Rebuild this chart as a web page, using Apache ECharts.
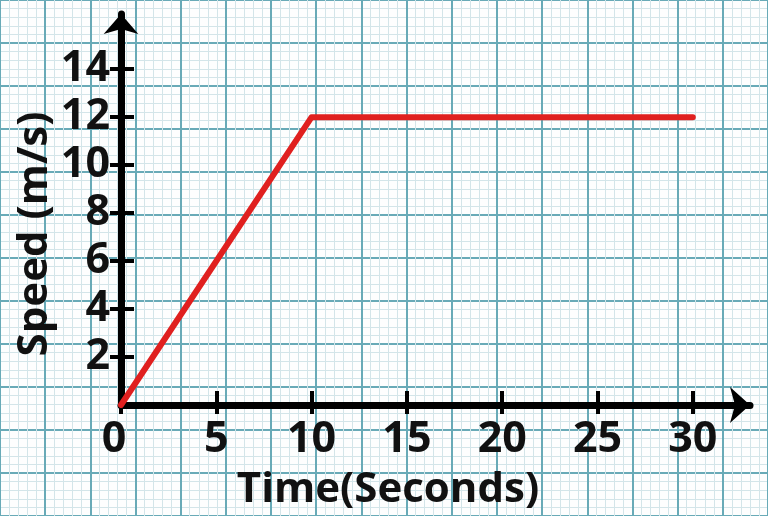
<!DOCTYPE html>
<html>
<head>
<meta charset="utf-8">
<script src="https://cdn.jsdelivr.net/npm/echarts@6/dist/echarts.min.js"></script>
<style>
  html, body { margin: 0; padding: 0; background: #fdfefe; }
  #chart { width: 768px; height: 516px; }
</style>
</head>
<body>
<div id="chart"></div>
<script>
// data
var timeVals = [0, 10, 30];
var speedVals = [0, 12, 12];
var xTickVals = [0, 5, 10, 15, 20, 25, 30];
var yTickVals = [2, 4, 6, 8, 10, 12, 14];

var FONT = '"Open Sans", "DejaVu Sans", sans-serif';
var chart = echarts.init(document.getElementById('chart'));

// graph paper: one grid over the whole canvas, only split lines
var paperX = {
  gridIndex: 0, type: 'value', min: -7.5, max: 35, interval: 2.5,
  axisLine: { show: false }, axisTick: { show: false }, axisLabel: { show: false },
  minorTick: { show: false, splitNumber: 5 },
  splitLine: { show: true, lineStyle: { color: '#68aab7', width: 2 } },
  minorSplitLine: { show: true, lineStyle: { color: '#d3e5e9', width: 1 } }
};
var paperY = {
  gridIndex: 0, type: 'value', min: -6, max: 18, interval: 2,
  axisLine: { show: false }, axisTick: { show: false }, axisLabel: { show: false },
  minorTick: { show: false, splitNumber: 5 },
  splitLine: { show: true, lineStyle: { color: '#68aab7', width: 2 } },
  minorSplitLine: { show: true, lineStyle: { color: '#d3e5e9', width: 1 } }
};

var option = {
  backgroundColor: '#fdfefe',
  animation: false,
  grid: [
    { left: -24, right: -19, top: -24, bottom: -32 },
    { left: 121, right: 18, top: 14, bottom: 111 }
  ],
  xAxis: [
    paperX,
    {
      gridIndex: 1, type: 'value', position: 'bottom', min: 0, max: 33, interval: 5,
      axisLine: { show: true, onZero: false, symbol: ['none', 'arrow'], symbolSize: [27, 20],
        lineStyle: { color: '#000', width: 7 } },
      axisTick: { show: true, inside: true, length: 14, customValues: xTickVals,
        lineStyle: { color: '#000', width: 4 } },
      axisLabel: { show: true, customValues: xTickVals, margin: 13, color: '#111',
        fontFamily: FONT, fontWeight: 'bold', fontSize: 43,
        formatter: function (v) { return v === 0 ? '{z|0}' : String(v); },
        rich: { z: { fontFamily: FONT, fontWeight: 'bold', fontSize: 43, color: '#111', padding: [0, 14, 0, 0] } } },
      splitLine: { show: false }
    },
    {
      gridIndex: 1, type: 'value', position: 'bottom', min: 0, max: 33, interval: 5,
      axisLine: { show: false, onZero: false },
      axisTick: { show: true, inside: false, length: 9, customValues: xTickVals,
        lineStyle: { color: '#000', width: 4 } },
      axisLabel: { show: false },
      splitLine: { show: false }
    }
  ],
  yAxis: [
    paperY,
    {
      gridIndex: 1, type: 'value', position: 'left', min: 0, max: 16.3, interval: 2,
      axisLine: { show: true, onZero: false, symbol: ['none', 'arrow'], symbolSize: [26, 20],
        lineStyle: { color: '#000', width: 7 } },
      axisTick: { show: true, inside: false, length: 11, customValues: yTickVals,
        lineStyle: { color: '#000', width: 4 } },
      axisLabel: { show: true, customValues: yTickVals, margin: 11, color: '#111',
        fontFamily: FONT, fontWeight: 'bold', fontSize: 43 },
      splitLine: { show: false }
    },
    {
      gridIndex: 1, type: 'value', position: 'left', min: 0, max: 16.3, interval: 2,
      axisLine: { show: false, onZero: false },
      axisTick: { show: true, inside: true, length: 13, customValues: yTickVals,
        lineStyle: { color: '#000', width: 4 } },
      axisLabel: { show: false },
      splitLine: { show: false }
    }
  ],
  graphic: [
    {
      type: 'text', x: 388, y: 490, z: 10,
      style: { text: 'Time(Seconds)', fill: '#111', font: 'bold 42px ' + FONT,
        align: 'center', verticalAlign: 'middle' }
    },
    {
      type: 'text', x: 35, y: 234, rotation: Math.PI / 2, z: 10,
      style: { text: 'Speed (m/s)', fill: '#111', font: 'bold 42px ' + FONT,
        align: 'center', verticalAlign: 'middle' }
    }
  ],
  series: [
    {
      type: 'line', xAxisIndex: 1, yAxisIndex: 1,
      data: timeVals.map(function (t, i) { return [t, speedVals[i]]; }),
      symbol: 'none',
      lineStyle: { color: '#e0201f', width: 6, cap: 'round', join: 'round' },
      z: 5
    }
  ]
};
chart.setOption(option);
</script>
</body>
</html>
